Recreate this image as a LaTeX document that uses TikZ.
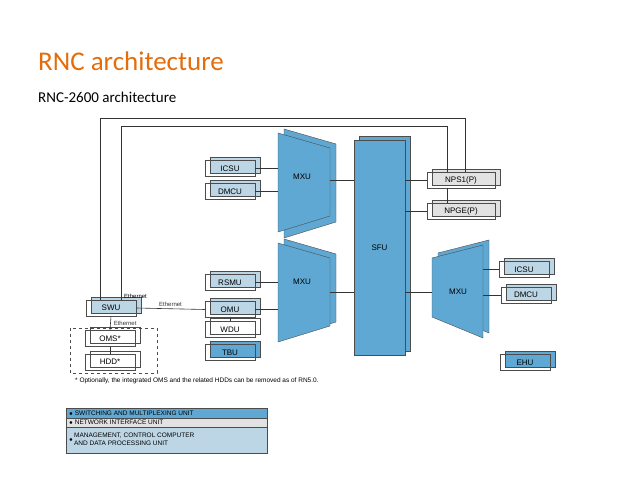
\documentclass[tikz,border=0pt]{standalone}
\usepackage{fontspec}
\setmainfont{Liberation Sans}
\newfontfamily\titlefont{Carlito}
\usetikzlibrary{shadows}
\definecolor{ublue}{HTML}{5FA8D3}
\definecolor{lblue}{HTML}{BCD6E6}
\definecolor{lgrey}{HTML}{E2E2E2}
\definecolor{torange}{HTML}{E46C0A}
\begin{document}
\begin{tikzpicture}[x=1pt,y=-1pt,
  lab/.style={font=\fontsize{8}{9}\selectfont,inner sep=0pt},
  box/.style={draw=black!70,line width=0.5pt,minimum width=50pt,minimum height=16pt,inner sep=0pt,
    font=\fontsize{8}{9}\selectfont,
    copy shadow={shadow xshift=5pt,shadow yshift=3pt,draw=black!70,fill=#1}},
  box/.default=lblue,
  con/.style={line width=0.6pt,black!80},
  blk/.style={draw=black!70,line width=0.5pt,fill=ublue}]
\useasboundingbox (0,0) rectangle (638,478);
\node[anchor=west,inner sep=0pt,font=\titlefont\fontsize{27}{30}\selectfont,text=torange] (title) at (38,61) {RNC architecture};
\node[anchor=west,inner sep=0pt,font=\titlefont\fontsize{15}{17}\selectfont] (sub) at (38,97) {RNC-2600 architecture};
% MXU blocks
\fill[ublue,draw=black!70] (284,129) -- (336,144) -- (336,222) -- (284,238) -- cycle;
\fill[ublue,draw=black!70] (278,133) -- (330,148) -- (330,216) -- (278,232) -- cycle;
\node[lab] (mxu1) at (302,177) {MXU};
\fill[ublue,draw=black!70] (284,239) -- (336,254) -- (336,322) -- (284,338) -- cycle;
\fill[ublue,draw=black!70] (278,243) -- (330,258) -- (330,326) -- (278,342) -- cycle;
\node[lab] (mxu2) at (302,282) {MXU};
\fill[ublue,draw=black!70] (438,253) -- (489,240) -- (489,333) -- (438,312) -- cycle;
\fill[ublue,draw=black!70] (432,258) -- (483,245) -- (483,338) -- (432,317) -- cycle;
\node[lab] (mxu3) at (458,292) {MXU};
% SFU
\node[blk,minimum width=51pt,minimum height=215pt,font=\fontsize{8}{9}\selectfont,inner sep=0pt,
  copy shadow={shadow xshift=5pt,shadow yshift=4pt,draw=black!70,fill=ublue}] (sfu) at (379.5,247.5) {SFU};
% boxes
\node[box] (icsu1) at (230,168.5) {ICSU};
\node[box] (dmcu1) at (230,191.5) {DMCU};
\node[box] (rsmu) at (230,282.5) {RSMU};
\node[box] (omu) at (230,309.5) {OMU};
\node[box=white] (wdu) at (230,329.5) {WDU};
\node[box=ublue] (tbu) at (230,352.5) {TBU};
\node[box] (swu) at (111,308) {SWU};
\node[box=white,copy shadow={opacity=0}] (oms) at (110,338.5) {OMS*};
\node[box=white] (hdd) at (110,362) {HDD*};
\node[box=lgrey,minimum width=68pt] (nps) at (461,180) {NPS1(P)};
\node[box=lgrey,minimum width=68pt] (npge) at (461,211.5) {NPGE(P)};
\node[box] (icsu2) at (524,269.5) {ICSU};
\node[box] (dmcu2) at (526,295) {DMCU};
\node[box=ublue] (ehu) at (525,362.5) {EHU};
\draw[dashed,black!70] (70,328) rectangle (157,373);
% connectors
\draw[con] (icsu1.east) -- (278,168.5);
\draw[con] (dmcu1.east) -- (278,191.5);
\draw[con] (rsmu.east) -- (278,282.5);
\draw[con] (omu.east) -- (278,309.5);
\draw[con] (330,180) -- (sfu.west |- 0,180);
\draw[con] (330,292) -- (sfu.west |- 0,292);
\draw[con] (sfu.east |- 0,292) -- (432,292);
\draw[con] (sfu.east |- nps.west) -- (nps.west);
\draw[con] (sfu.east |- npge.west) -- (npge.west);
\draw[con] (483,269.5) -- (icsu2.west);
\draw[con] (483,295) -- (dmcu2.west);
\draw[con] (swu.east) -- node[lab,above=2pt,font=\fontsize{6}{7}\selectfont] {Ethernet} (omu.west);
\draw[con] (omu.south) -- (wdu.north);
\draw[con] (swu.south) -- node[lab,right=3pt,font=\fontsize{6}{7}\selectfont] {Ethernet} (oms.north);
\draw[con] (oms.south) -- (hdd.north);
\draw[con] (swu.north -| 100,0) -- (100,118) -- (465,118) -- (465,0 |- nps.north);
\draw[con] (swu.north -| 121,0) -- (121,126) -- (447,126) -- (447,0 |- nps.north);
\draw[con] (nps.south -| 447,0) -- (npge.north -| 447,0);
\node[lab,font=\fontsize{6}{7}\selectfont,anchor=south west] (eth1) at (124,299) {Ethernet};
\node[anchor=west,inner sep=0pt,font=\fontsize{6.5}{8}\selectfont] (note) at (75,381) {* Optionally, the integrated OMS and the related HDDs can be removed as of RN5.0.};
% legend
\draw[black!70,fill=ublue] (66,408) rectangle (267,418);
\draw[black!70,fill=lgrey] (66,418) rectangle (267,427);
\draw[black!70,fill=lblue] (66,427) rectangle (267,453);
\node[anchor=west,inner sep=0pt,font=\fontsize{6.5}{7}\selectfont] (l1) at (69,413) {$\bullet$ SWITCHING AND MULTIPLEXING UNIT};
\node[anchor=west,inner sep=0pt,font=\fontsize{6.5}{7}\selectfont] (l2) at (69,422.5) {$\bullet$ NETWORK INTERFACE UNIT};
\node[anchor=west,inner sep=0pt,font=\fontsize{6.5}{7.5}\selectfont,align=left] (l3) at (69,440) {$\bullet$\,\begin{tabular}[c]{@{}l@{}}MANAGEMENT, CONTROL COMPUTER\\AND DATA PROCESSING UNIT\end{tabular}};
\end{tikzpicture}
\end{document}
